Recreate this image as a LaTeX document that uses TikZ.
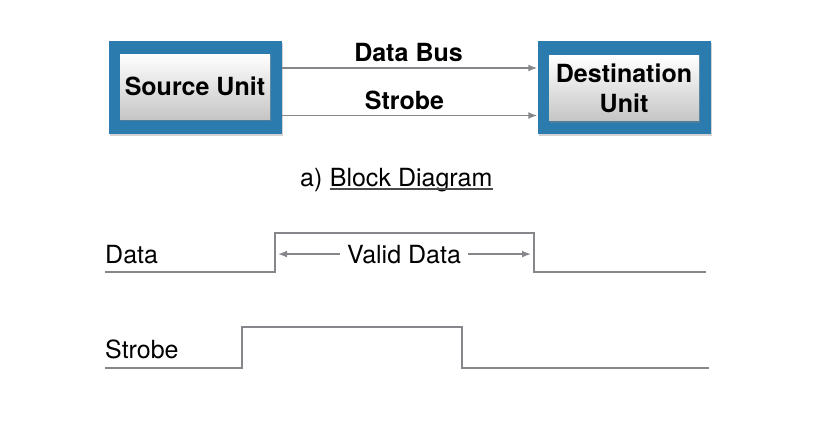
\documentclass[tikz,border=0pt]{standalone}
\usepackage{fontspec}
\setmainfont{TeX Gyre Heros}
\usetikzlibrary{positioning,arrows.meta,calc,shadows}

\definecolor{unitblue}{HTML}{2B7BAE}
\definecolor{wiregray}{HTML}{85878A}

\begin{document}
\begin{tikzpicture}[x=1pt,y=-1pt,
    every node/.style={font=\fontsize{25}{28}\selectfont},
    outerbox/.style={fill=unitblue, minimum width=173pt, minimum height=93pt,
      inner sep=0pt, drop shadow={shadow xshift=1pt, shadow yshift=-2pt, opacity=.35}},
    unitbox/.style={top color=white, bottom color=gray!45, minimum width=150pt,
      minimum height=65pt, inner sep=0pt, align=center,
      font=\fontsize{25}{30}\selectfont\bfseries,
      drop shadow={shadow xshift=1pt, shadow yshift=-2pt, opacity=.45}},
    wire/.style={draw=wiregray, line width=1.6pt},
    bus/.style={wire, -{Latex[length=9pt,width=7pt]}}]
    \useasboundingbox (0,0) rectangle (820,431);

    % block diagram
    \node[outerbox] (srcbox) at (195.5,87.5) {};
    \node[unitbox] (src) at (195,86.5) {Source Unit};
    \node[outerbox] (dstbox) at (624,87.5) {};
    \node[unitbox] (dst) at (624,88) {Destination\\Unit};

    \coordinate (busout) at (srcbox.east |- 0,68);
    \coordinate (strout) at (srcbox.east |- 0,115.5);
    \draw[bus] (busout) -- (busout -| dstbox.west);
    \draw[bus] (strout) -- (strout -| dstbox.west);
    \node[anchor=base, font=\fontsize{25}{28}\selectfont\bfseries] (buslbl) at (408.5,61) {Data Bus};
    \node[anchor=base, font=\fontsize{25}{28}\selectfont\bfseries] (strlbl) at (404.5,109) {Strobe};

    \node[anchor=base west, inner sep=0pt] (capA) at (300,186) {a)};
    \node[anchor=base west, inner sep=0pt] (capB) at ($(capA.base east)+(7,0)$) {Block Diagram};
    \draw[black!70, line width=1.1pt] ($(capB.base west)+(0,3)$) -- ($(capB.base east)+(0,3)$);

    % timing diagram
    \node[anchor=base west, inner sep=0pt] (datalbl) at (105,263) {Data};
    \node[anchor=base west, inner sep=0pt] (strobelbl) at (105,358) {Strobe};

    \coordinate (d0) at (105,272);
    \coordinate (drise) at (275,272);
    \coordinate (dfall) at (534,272);
    \coordinate (dend) at (706,272);
    \draw[wire] (d0) -- (drise) -- ++(0,-39) -| (dfall) -- (dend);

    \coordinate (s0) at (105,368);
    \coordinate (srise) at (242,368);
    \coordinate (sfall) at (462,368);
    \coordinate (send) at (709,368);
    \draw[wire] (s0) -- (srise) -- ++(0,-41) -| (sfall) -- (send);

    \node[anchor=base, inner sep=7pt] (valid) at (404,263) {Valid Data};
    \draw[bus] (valid.west) -- ($(drise |- valid.west)+(3,0)$);
    \draw[bus] (valid.east) -- ($(dfall |- valid.east)+(-3,0)$);
\end{tikzpicture}
\end{document}
